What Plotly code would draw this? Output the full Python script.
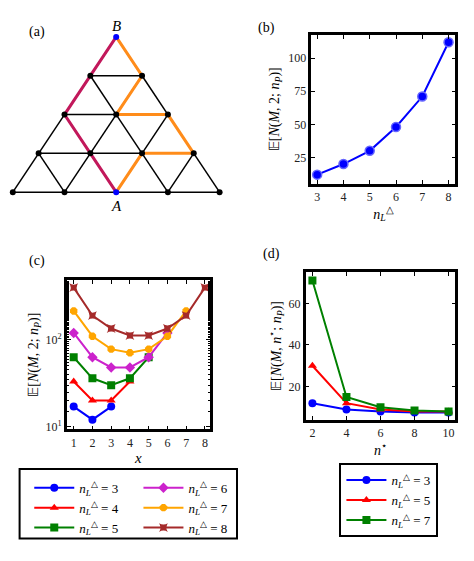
import plotly.graph_objects as go

# panel (b)
nl_b = [3, 4, 5, 6, 7, 8]
e_b = [12, 20, 30, 48, 71, 112]

# panel (c): E[N] vs x for each n_L
x_c = {3: [1, 2, 3], 4: [1, 2, 3, 4], 5: [1, 2, 3, 4, 5], 6: [1, 2, 3, 4, 5, 6],
       7: [1, 2, 3, 4, 5, 6, 7], 8: [1, 2, 3, 4, 5, 6, 7, 8]}
e_c = {3: [17, 12, 17],
       4: [33, 20, 20, 33],
       5: [63, 36, 30, 36, 63],
       6: [120, 63, 48, 48, 63, 120],
       7: [215, 110, 78, 71, 78, 110, 215],
       8: [400, 190, 135, 112, 112, 135, 190, 400]}

# panel (d)
nstar = [2, 4, 6, 8, 10]
e_d = {3: [12, 9, 8, 7.5, 7.5],
       5: [30, 12, 9, 8, 8],
       7: [71, 15, 10, 8.5, 8]}

# panel (a): lattice paths (row, index)
red_path = [(0, 0), (1, 0), (2, 0), (3, 1), (4, 2)]
orange_path = [(0, 0), (1, 1), (2, 1), (2, 2), (3, 3), (3, 2), (4, 2)]

colors = {3: "blue", 4: "red", 5: "green", 6: "#cc22cc", 7: "orange", 8: "#a52a2a"}
symbols = {3: "circle", 4: "triangle-up", 5: "square", 6: "diamond", 7: "octagon", 8: "star-square"}
d_colors = {3: "blue", 5: "red", 7: "green"}
d_symbols = {3: "circle", 5: "triangle-up", 7: "square"}
FONT = "Liberation Serif"
NL = "<i>n</i><sub><i>L</i></sub><sup>△</sup>"
H = 0.866


def pos(rc):
    r, i = rc
    return i - r / 2, -r * H


fig = go.Figure()

# lattice edges
N = 4
ex, ey = [], []
for r in range(N + 1):
    for i in range(r + 1):
        x0, y0 = pos((r, i))
        if i < r:
            x1, y1 = pos((r, i + 1))
            ex += [x0, x1, None]; ey += [y0, y1, None]
        if r < N:
            for j in (i, i + 1):
                x1, y1 = pos((r + 1, j))
                ex += [x0, x1, None]; ey += [y0, y1, None]
fig.add_trace(go.Scatter(x=ex, y=ey, mode="lines", line=dict(color="black", width=1.5),
                         showlegend=False, xaxis="x", yaxis="y"))
for path, col in [(red_path, "#c2185b"), (orange_path, "#ff8c1a")]:
    pts = [pos(p) for p in path]
    fig.add_trace(go.Scatter(x=[p[0] for p in pts], y=[p[1] for p in pts], mode="lines",
                             line=dict(color=col, width=3), showlegend=False, xaxis="x", yaxis="y"))
nx, ny, nc = [], [], []
for r in range(N + 1):
    for i in range(r + 1):
        x0, y0 = pos((r, i))
        nx.append(x0); ny.append(y0)
        nc.append("blue" if (r, i) in [(0, 0), (4, 2)] else "black")
fig.add_trace(go.Scatter(x=nx, y=ny, mode="markers", marker=dict(color=nc, size=6),
                         showlegend=False, xaxis="x", yaxis="y"))

# panel (b)
fig.add_trace(go.Scatter(x=nl_b, y=e_b, mode="lines+markers", line=dict(color="blue", width=2),
                         marker=dict(size=9, color="blue", line=dict(color="#6666ff", width=1.5)),
                         showlegend=False, xaxis="x2", yaxis="y2"))

# panel (c), legend split in two columns
for n in [3, 4, 5, 6, 7, 8]:
    fig.add_trace(go.Scatter(x=x_c[n], y=e_c[n], mode="lines+markers", name=f"{NL} = {n}",
                             line=dict(color=colors[n], width=2),
                             marker=dict(symbol=symbols[n], size=8, color=colors[n]),
                             legend="legend" if n <= 5 else "legend3", xaxis="x3", yaxis="y3"))

# panel (d)
for n in [3, 5, 7]:
    fig.add_trace(go.Scatter(x=nstar, y=e_d[n], mode="lines+markers", name=f"{NL} = {n}",
                             line=dict(color=d_colors[n], width=2),
                             marker=dict(symbol=d_symbols[n], size=8, color=d_colors[n]),
                             legend="legend2", xaxis="x4", yaxis="y4"))

ax = dict(showline=True, linecolor="black", linewidth=2.5, mirror="ticks", ticks="inside",
          ticklen=4, tickcolor="black", showgrid=False, zeroline=False,
          tickfont=dict(size=12, family=FONT, color="#222"))
W, Hp = 474, 561


def dx(a, b):
    return [a / W, b / W]


def dy(top, bot):
    return [1 - bot / Hp, 1 - top / Hp]


leg = dict(xanchor="left", yanchor="top", font=dict(size=13), itemwidth=40,
           bgcolor="rgba(0,0,0,0)")
fig.update_layout(
    width=458, height=545, margin=dict(l=0, r=0, t=0, b=0),
    paper_bgcolor="white", plot_bgcolor="white",
    font=dict(family=FONT, color="black"),
    xaxis=dict(domain=dx(0, 237), range=[-2.093, 2.337], visible=False),
    yaxis=dict(domain=dy(0, 210), range=[-3.873, 0.645], visible=False),
    xaxis2=dict(ax, domain=dx(314, 463), range=[2.78, 8.26], tickvals=nl_b,
                title=dict(text=NL, font=dict(size=14), standoff=4), anchor="y2"),
    yaxis2=dict(ax, domain=dy(28, 182), range=[5.3, 117.5], tickvals=[25, 50, 75, 100],
                title=dict(text="𝔼[<i>N</i>(<i>M</i>, 2; <i>n<sub>P</sub></i>)]", font=dict(size=14), standoff=6),
                anchor="x2"),
    xaxis3=dict(ax, domain=dx(61, 209), range=[0.64, 8.27], tickvals=list(range(1, 9)),
                title=dict(text="<i>x</i>", font=dict(size=15), standoff=4), anchor="y3"),
    yaxis3=dict(ax, domain=dy(282, 437), type="log", range=[0.967, 2.69],
                tickvals=[10, 100], ticktext=["10<sup>1</sup>", "10<sup>2</sup>"],
                minor=dict(ticks="inside", ticklen=2, tickcolor="black"),
                title=dict(text="𝔼[<i>N</i>(<i>M</i>, 2; <i>n<sub>P</sub></i>)]", font=dict(size=14), standoff=4),
                anchor="x3"),
    xaxis4=dict(ax, domain=dx(308, 463), range=[1.6, 10.4], tickvals=nstar,
                title=dict(text="<i>n</i><sup>⋆</sup>", font=dict(size=14), standoff=4), anchor="y4"),
    yaxis4=dict(ax, domain=dy(274, 427), range=[4, 75], tickvals=[20, 40, 60],
                title=dict(text="𝔼[<i>N</i>(<i>M</i>, <i>n</i><sup>⋆</sup>; <i>n<sub>P</sub></i>)]", font=dict(size=14), standoff=4),
                anchor="x4"),
    legend=dict(leg, x=22 / W, y=1 - 482 / Hp),
    legend3=dict(leg, x=135 / W, y=1 - 482 / Hp),
    legend2=dict(leg, x=343 / W, y=1 - 472 / Hp, bordercolor="black", borderwidth=2),
)

fig.add_shape(type="rect", xref="paper", yref="paper", x0=12 / W, x1=237 / W,
              y0=1 - 550 / Hp, y1=1 - 478 / Hp, line=dict(color="black", width=2))
fig.add_annotation(x=0, y=0.03, xref="x", yref="y", text="<i>B</i>", showarrow=False,
                   yanchor="bottom", font=dict(size=15))
fig.add_annotation(x=0, y=-3.55, xref="x", yref="y", text="<i>A</i>", showarrow=False,
                   yanchor="top", font=dict(size=15))
for txt, px, py in [("(a)", 20, 14), ("(b)", 268, 10), ("(c)", 20, 262), ("(d)", 273, 255)]:
    fig.add_annotation(x=px / W, y=1 - py / Hp, xref="paper", yref="paper", text=txt,
                       showarrow=False, font=dict(size=14))

fig.write_html("out.html")
